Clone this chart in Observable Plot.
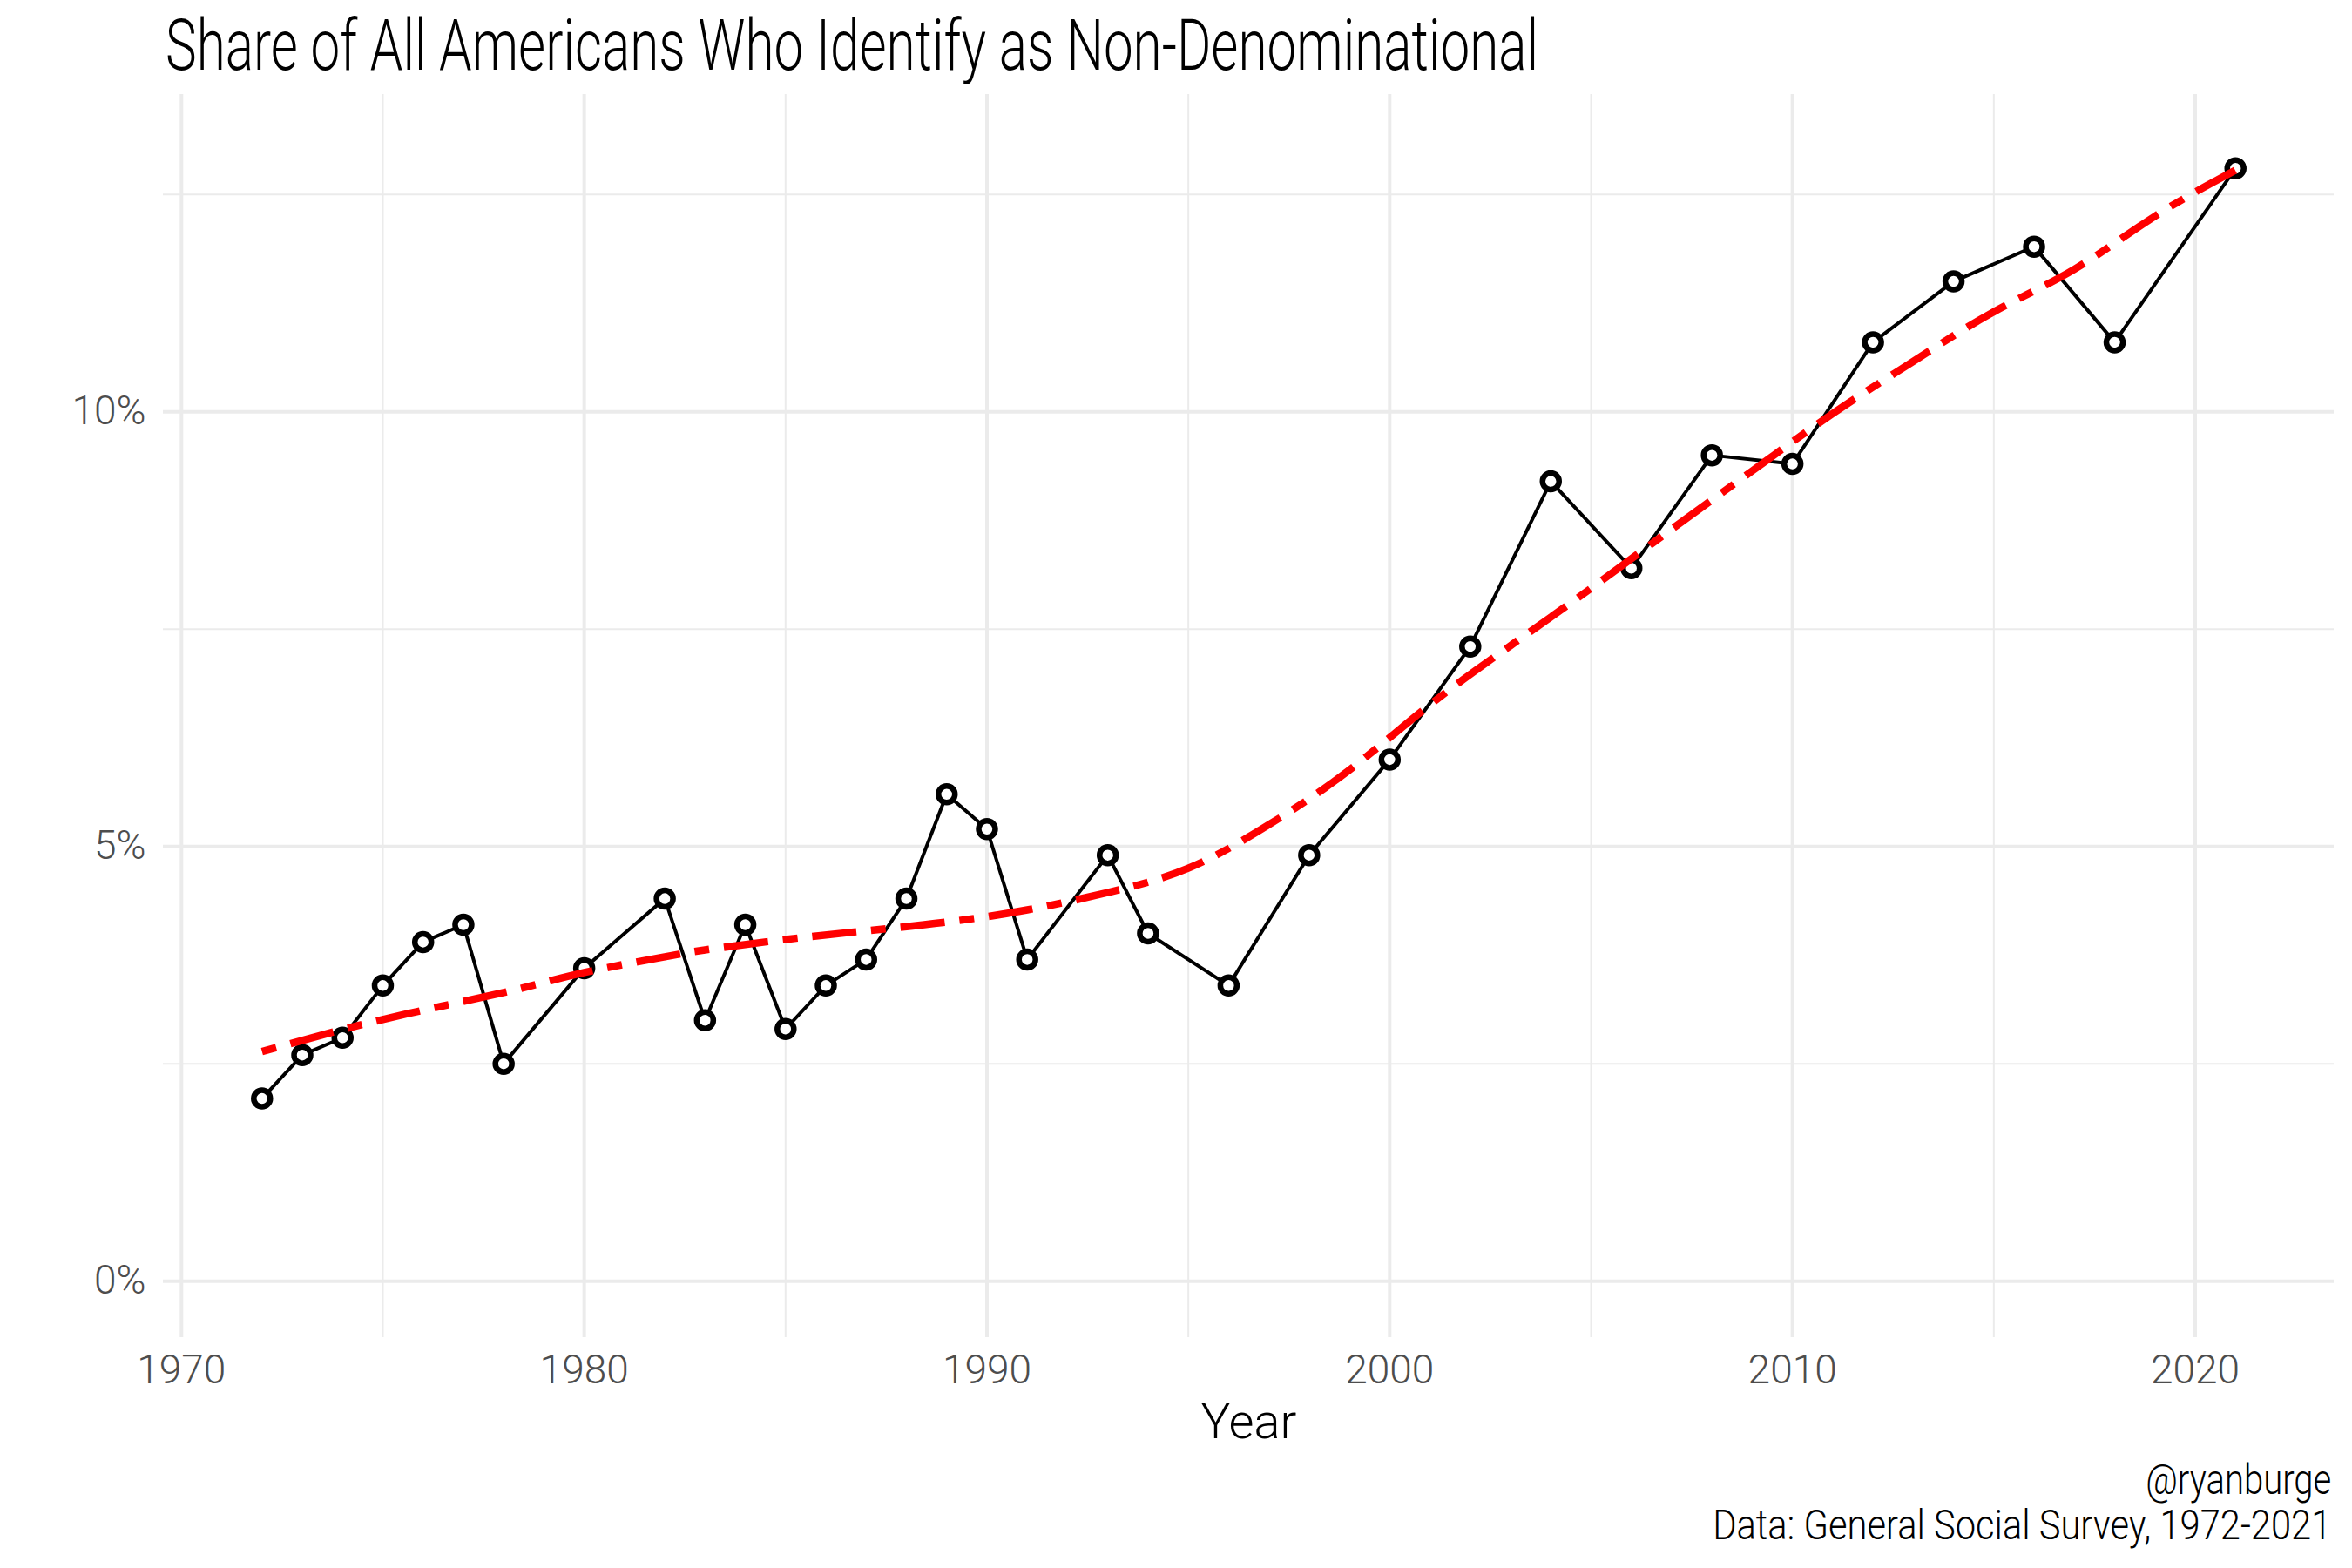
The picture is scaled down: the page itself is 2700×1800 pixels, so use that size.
<!DOCTYPE html>
<html>
<head>
<meta charset="utf-8">
<script src="https://cdn.jsdelivr.net/npm/d3@7"></script>
<script src="https://cdn.jsdelivr.net/npm/@observablehq/plot@0.6"></script>
<style>
  html, body { margin: 0; padding: 0; background: #ffffff; }
  body { width: 2700px; height: 1800px; overflow: hidden;
         font-family: Roboto, "DejaVu Sans Condensed", sans-serif; font-weight: 300; }
  #title { height: 108px; box-sizing: border-box; padding-left: 190px; padding-top: 4px;
           font-size: 82px; line-height: 96px; color: #000; white-space: nowrap; }
  #title span, #caption span { display: inline-block; white-space: nowrap; }
  #title span { transform-origin: 0 50%; }
  #chart { height: 1562px; }
  #caption { text-align: right; padding-right: 24px; padding-top: 3px;
             font-size: 48px; line-height: 52px; color: #000; }
  #caption span { transform-origin: 100% 50%; }
</style>
</head>
<body>
<div id="title"><span data-w="1576">Share of All Americans Who Identify as Non-Denominational</span></div>
<div id="chart"></div>
<div id="caption"><span data-w="213">@ryanburge</span><br><span data-w="710">Data: General Social Survey, 1972-2021</span></div>
<script>
// Observed survey years and share (%) identifying as non-denominational
const years = [1972,1973,1974,1975,1976,1977,1978,1980,1982,1983,1984,1985,1986,1987,1988,1989,1990,1991,1993,1994,1996,1998,2000,2002,2004,2006,2008,2010,2012,2014,2016,2018,2021];
const shares = [2.1,2.6,2.8,3.4,3.9,4.1,2.5,3.6,4.4,3.0,4.1,2.9,3.4,3.7,4.4,5.6,5.2,3.7,4.9,4.0,3.4,4.9,6.0,7.3,9.2,8.2,9.5,9.4,10.8,11.5,11.9,10.8,12.8];

// Smoothed trend
const smoothYears = [1972,1975,1978,1980,1982,1983,1985,1987,1989,1991,1993,1995,1997,1999,2001,2003,2005,2007,2009,2011,2013,2015,2017,2019,2021];
const smoothShares = [2.64,3.01,3.32,3.55,3.73,3.81,3.93,4.03,4.13,4.27,4.47,4.75,5.25,5.88,6.63,7.31,7.97,8.65,9.32,9.98,10.58,11.15,11.64,12.25,12.78];

// Axis ticks
const xMajor = [1970,1980,1990,2000,2010,2020];
const xMinor = [1975,1985,1995,2005,2015];
const yMajor = [0,5,10];
const yMinor = [2.5,7.5,12.5];
const yLimits = [0,13];

const points = years.map((y,i) => ({year: y, share: shares[i]}));
const smooth = smoothYears.map((y,i) => ({year: y, share: smoothShares[i]}));

const xr = d3.extent(years);
const xpad = (xr[1]-xr[0])*0.05;
const ypad = (yLimits[1]-yLimits[0])*0.05;

const fontFam = 'Roboto, "DejaVu Sans Condensed", sans-serif';

const chart = Plot.plot({
  width: 2700,
  height: 1562,
  marginTop: 0,
  marginLeft: 187,
  marginRight: 21,
  marginBottom: 135,
  style: {fontFamily: fontFam, fontSize: "46px", fontWeight: 300, background: "#ffffff", overflow: "visible"},
  x: {domain: [xr[0]-xpad, xr[1]+xpad]},
  y: {domain: [yLimits[0]-ypad, yLimits[1]+ypad]},
  marks: [
    Plot.ruleX(xMinor, {stroke: "#EBEBEB", strokeWidth: 2}),
    Plot.ruleY(yMinor, {stroke: "#EBEBEB", strokeWidth: 2}),
    Plot.ruleX(xMajor, {stroke: "#EBEBEB", strokeWidth: 4}),
    Plot.ruleY(yMajor, {stroke: "#EBEBEB", strokeWidth: 4}),
    Plot.axisX(xMajor, {tickSize: 0, tickPadding: 20, tickFormat: d => String(d), fill: "#4D4D4D", label: null, fontSize: 46}),
    Plot.axisY(yMajor, {tickSize: 0, tickPadding: 20, tickFormat: d => d + "%", fill: "#4D4D4D", label: null, fontSize: 46}),
    Plot.text(["Year"], {frameAnchor: "bottom", text: d => d, lineAnchor: "top", dy: 76, fontSize: 56, fill: "#000"}),
    Plot.line(points, {x: "year", y: "share", stroke: "#000", strokeWidth: 4}),
    Plot.dot(points, {x: "year", y: "share", r: 9.5, fill: "#fff", stroke: "#000", strokeWidth: 6.5}),
    Plot.line(smooth, {x: "year", y: "share", curve: "natural", stroke: "#FF0000", strokeWidth: 8.5, strokeDasharray: "17 17 51 17", strokeLinecap: "butt"})
  ]
});
document.getElementById("chart").appendChild(chart);

// Condense HTML text lines horizontally to the narrow width of the original typeface
document.querySelectorAll("[data-w]").forEach(el => {
  const target = +el.getAttribute("data-w");
  const w = el.getBoundingClientRect().width;
  if (w > 0) el.style.transform = `scaleX(${target / w})`;
});
</script>
</body>
</html>
